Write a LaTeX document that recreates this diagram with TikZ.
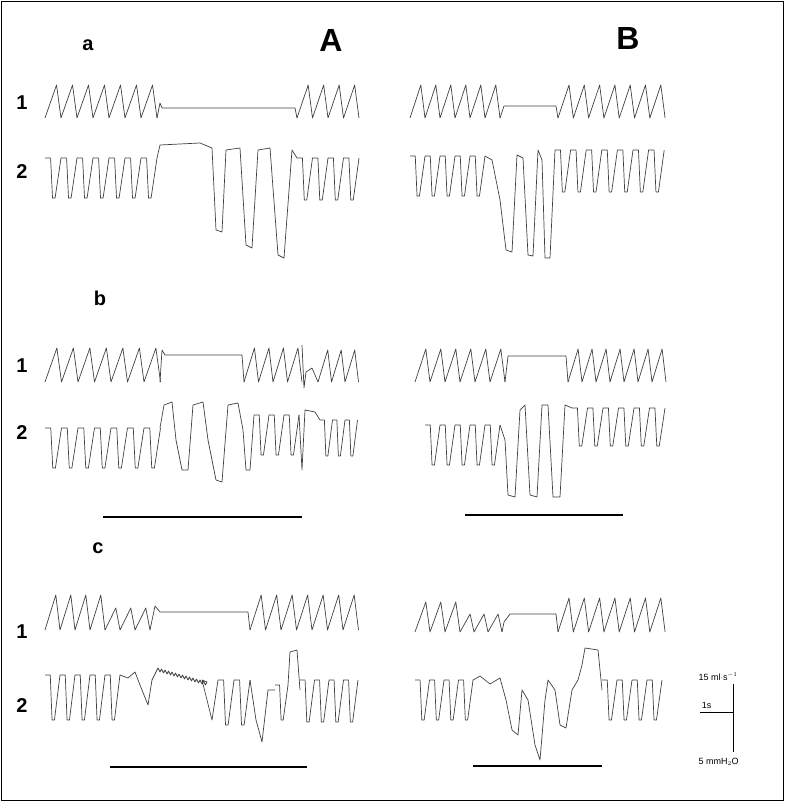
\documentclass[tikz,border=0pt]{standalone}
\usepackage{fontspec}
\setmainfont{Liberation Sans}
\begin{document}
\begin{tikzpicture}[x=1pt,y=-1pt,tr/.style={line width=0.7pt,black!75,line join=round},
lab/.style={font=\bfseries\fontsize{20}{20}\selectfont},big/.style={font=\bfseries\fontsize{32}{32}\selectfont},
bar/.style={line width=1.2pt},sc/.style={font=\fontsize{9}{9}\selectfont}]
\newcommand\mysaw[5]{\draw[tr] (#1,#2) foreach \i in {1,...,#3}{ -- ++(0.72*#4,-#5) -- ++(0.28*#4,#5)}}
\newcommand\mypulse[5]{\draw[tr] (#1,#2) foreach \i in {1,...,#3}{ -- ++(0.35*#4,0) -- ++(0.12*#4,#5) -- ++(0.16*#4,0) -- ++(0.37*#4,-#5)}}
\path[use as bounding box] (0,0) rectangle (785,802);
\draw[line width=1.5pt] (1.5,1.5) rectangle (783.5,800.5);
% labels
\node[lab] (la) at (88,45) {a};
\node[big] (A) at (331,40) {A};
\node[big] (B) at (628,38) {B};
\node[lab] (a1) at (22,103) {1};
\node[lab] (a2) at (22,172) {2};
\node[lab] (lb) at (100,298) {b};
\node[lab] (b1) at (22,366) {1};
\node[lab] (b2) at (22,433) {2};
\node[lab] (lc) at (98,548) {c};
\node[lab] (c1) at (22,632) {1};
\node[lab] (c2) at (22,706) {2};
% ---- A a
\mysaw{45}{118}{7}{16}{33};
\draw[tr] (157,118) -- (160,103) -- (162,108) -- (295,108) -- (297,118);
\mysaw{297}{118}{4}{15.5}{33};
\mypulse{45}{158}{7}{16}{40};
\draw[tr] (157,158) -- (160,145) -- (200,143) -- (212,148) -- (216,230) -- (222,232) -- (226,150) -- (240,148) -- (246,245) -- (252,248) -- (258,150) -- (270,148) -- (278,255) -- (284,258) -- (292,150) -- (297,158);
\mypulse{297}{158}{4}{15.5}{42};
% ---- B a
\mysaw{410}{118}{6}{15}{33};
\draw[tr] (500,118) -- (504,106) -- (556,106) -- (558,118);
\mysaw{558}{118}{7}{15.3}{33};
\mypulse{410}{156}{5}{15}{40};
\draw[tr] (485,156) -- (492,160) -- (500,200) -- (506,250) -- (512,252) -- (517,155) -- (523,158) -- (528,255) -- (533,256) -- (538,150) -- (542,160) -- (545,258) -- (550,258) -- (555,150);
\mypulse{555}{150}{7}{15.6}{42};
% ---- A b
\mysaw{45}{382}{7}{16.5}{34};
\draw[tr] (160,382) -- (162,350) -- (165,355) -- (242,355) -- (244,382);
\mysaw{244}{382}{4}{14.5}{34};
\draw[tr] (302,345) -- (304,388) -- (306,372) -- (312,368) -- (318,382);
\mysaw{318}{382}{3}{13.5}{32};
\mypulse{45}{428}{7}{16.5}{40};
\draw[tr] (160,428) -- (164,405) -- (172,402) -- (176,440) -- (182,470) -- (188,470) -- (193,405) -- (203,402) -- (208,440) -- (216,480) -- (222,482) -- (228,405) -- (238,403) -- (243,430) -- (246,470) -- (250,470) -- (254,415);
\mypulse{254}{415}{3}{15}{40};
\draw[tr] (299,415) -- (302,470) -- (305,410) -- (315,412) -- (320,420);
\mypulse{320}{420}{3}{12.5}{36};
\draw[bar] (103,517) -- (302,517);
% ---- B b
\mysaw{415}{382}{6}{15}{33};
\draw[tr] (505,382) -- (508,356) -- (566,356) -- (568,382);
\mysaw{568}{382}{7}{14}{33};
\mypulse{425}{425}{5}{15}{40};
\draw[tr] (500,425) -- (505,440) -- (508,495) -- (515,497) -- (520,410) -- (525,405) -- (530,495) -- (537,497) -- (542,405) -- (548,405) -- (553,497) -- (560,497) -- (565,405) -- (572,408);
\mypulse{572}{408}{6}{15.5}{38};
\draw[bar] (465,515) -- (623,515);
% ---- A c
\mysaw{45}{630}{4}{15}{35};
\mysaw{105}{630}{3}{15}{22};
\draw[tr] (150,630) -- (155,606) -- (160,612) -- (248,612) -- (250,630);
\mysaw{250}{630}{7}{15.5}{35};
\mypulse{45}{675}{5}{15}{45};
\draw[tr] (120,675) -- (128,678) -- (135,672) -- (140,685) -- (148,705) -- (152,680);
\draw[tr] (152,680) -- (158,668) foreach \i in {1,...,14}{-- ++(2,4) -- ++(1.5,-3)} -- (202,680) -- (207,700) -- (212,720) -- (218,680);
\mypulse{218}{680}{2}{16}{45};
\draw[tr] (250,680) -- (256,720) -- (262,742) -- (268,690) -- (275,690);
\mypulse{275}{685}{1}{13}{35};
\draw[tr] (288,685) -- (290,652) -- (297,650) -- (300,690);
\mypulse{300}{680}{4}{14.5}{42};
\draw[bar] (110,767) -- (307,767);
% ---- B c
\mysaw{415}{632}{3}{15}{30};
\mysaw{460}{632}{3}{14}{18};
\draw[tr] (502,632) -- (504,622) -- (510,614) -- (556,614) -- (558,632);
\mysaw{558}{632}{7}{15.3}{34};
\mypulse{415}{680}{4}{14.5}{40};
\draw[tr] (473,680) -- (480,676) -- (490,684) -- (500,678) -- (506,700) -- (512,730) -- (518,735) -- (522,690) -- (528,700) -- (535,745) -- (540,760) -- (545,700) -- (548,680) -- (555,690) -- (560,725) -- (566,728) -- (572,690) -- (578,680) -- (582,665) -- (585,648) -- (598,650) -- (602,690);
\mypulse{602}{680}{4}{15}{40};
\draw[bar] (473,766) -- (602,766);
% scale
\coordinate (s1) at (733,684);
\coordinate (s2) at (733,752);
\coordinate (s3) at (700,712);
\coordinate (s4) at (733,712);
\draw[line width=0.8pt] (s1) -- (s2);
\draw[line width=0.8pt] (s3) -- (s4);
\node[sc, anchor=west] (t1) at (695,677) {15 ml$\cdot$s$^{-1}$};
\node[sc, anchor=east] (t2) at (715,705) {1s};
\node[sc, anchor=west] (t3) at (695,762) {5 mmH$_2$O};
\end{tikzpicture}
\end{document}
